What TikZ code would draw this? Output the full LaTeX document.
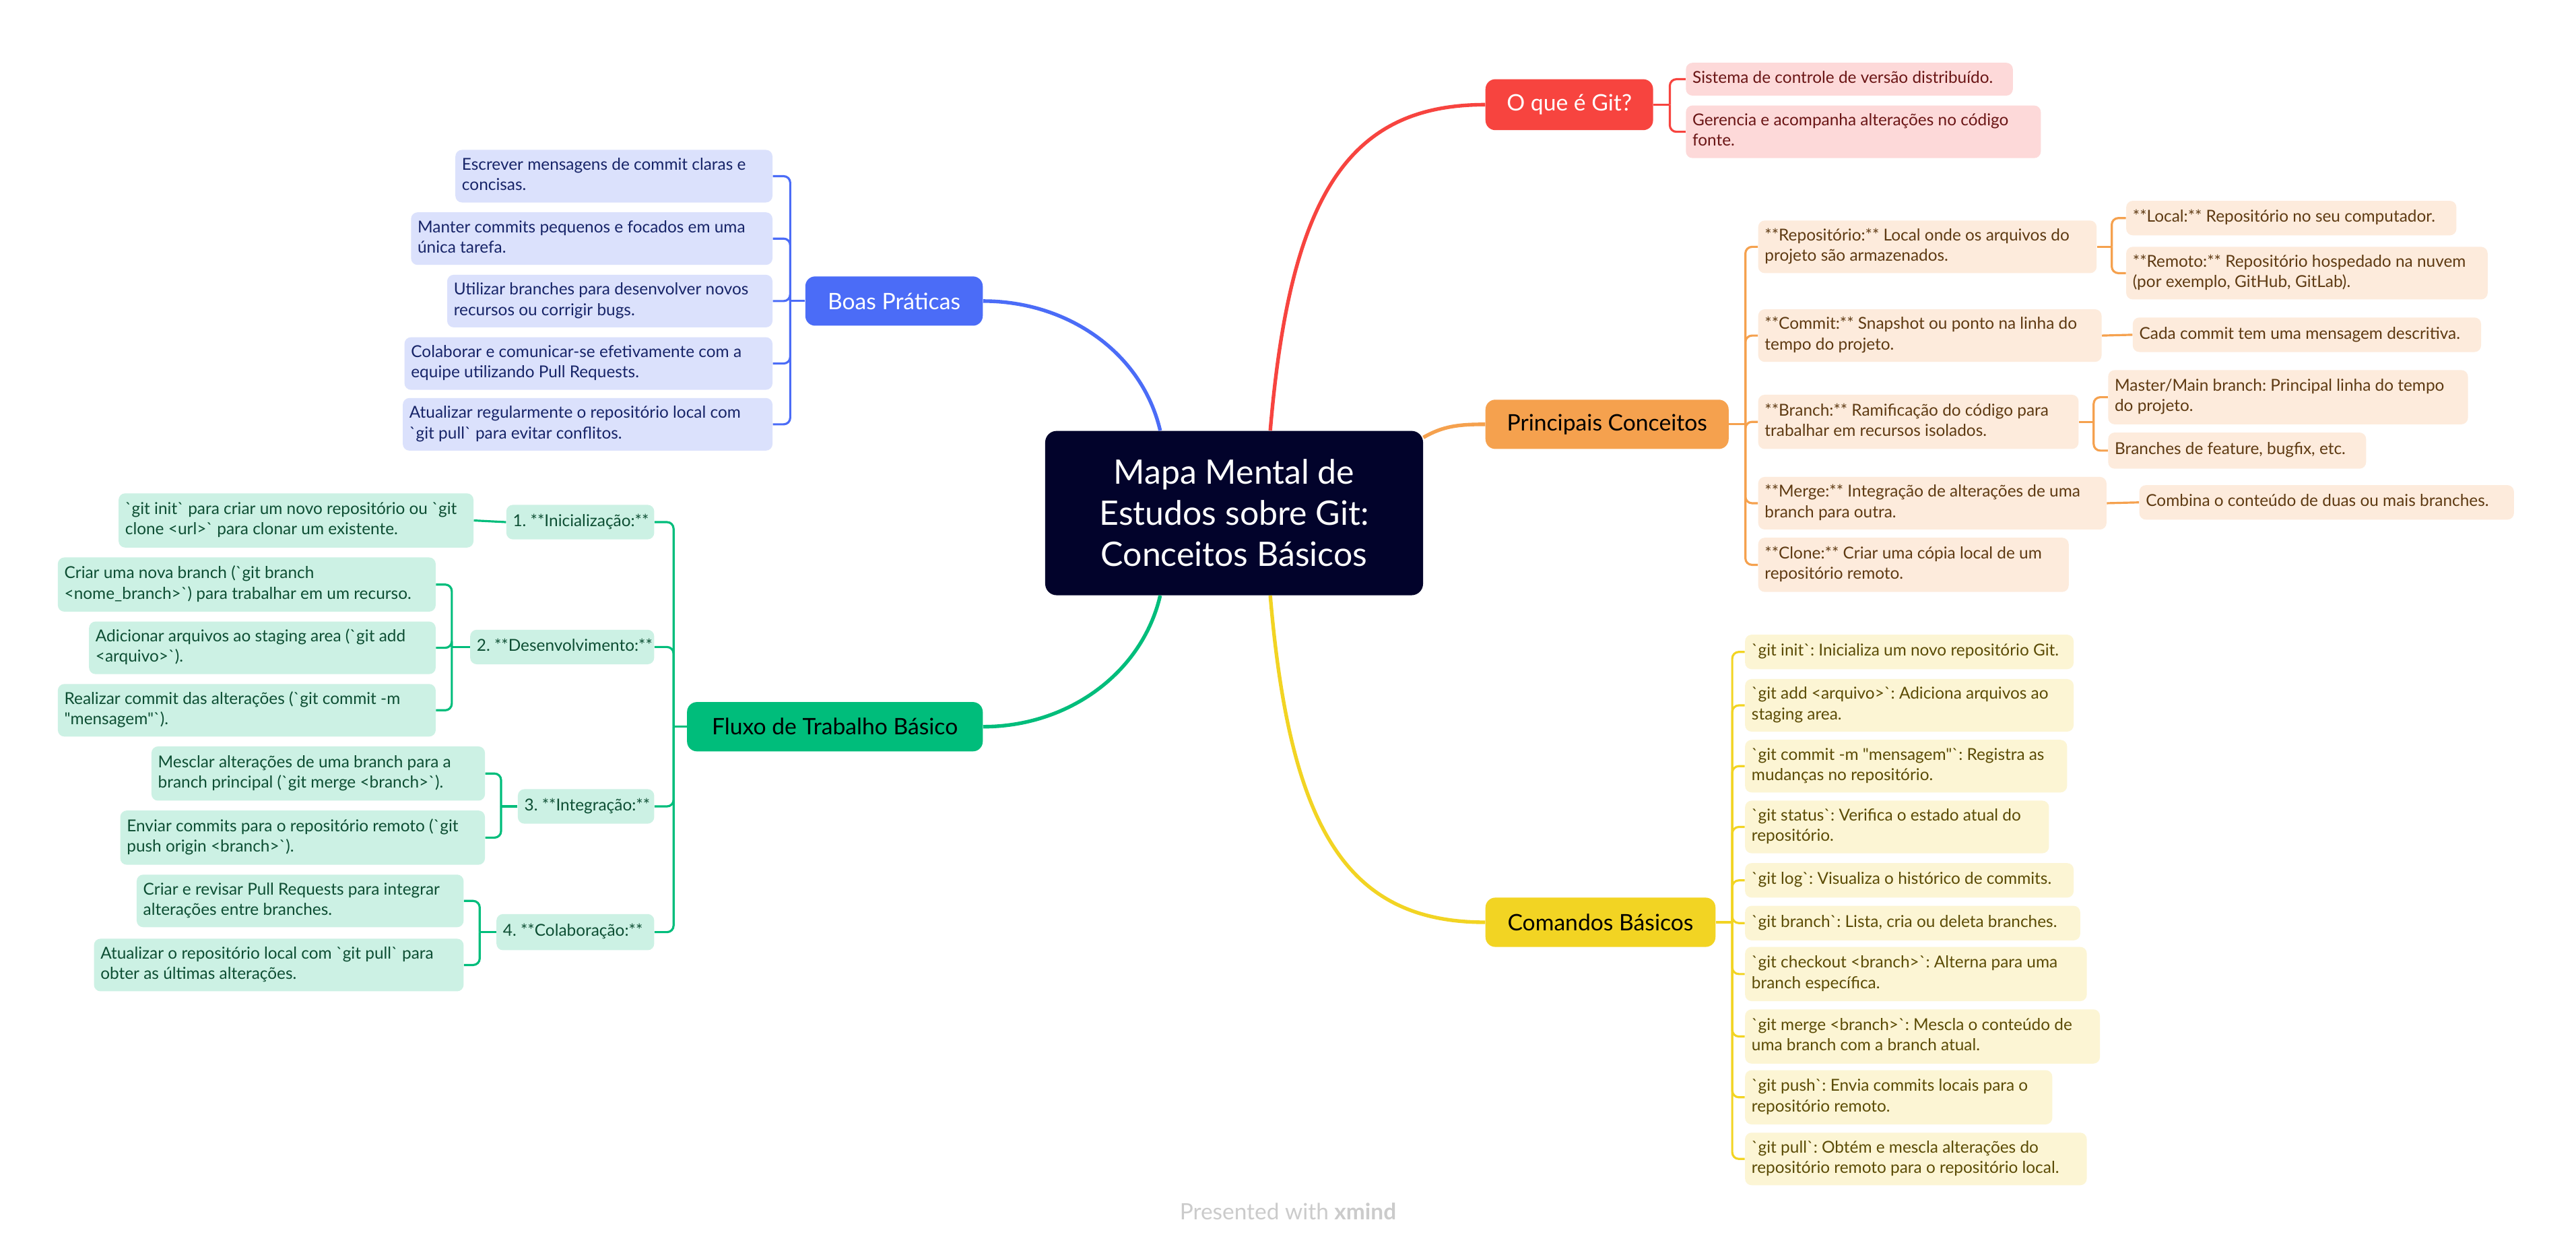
\documentclass[tikz,border=0pt]{standalone}
\usepackage{fontspec}
\setmainfont{Lato}[Ligatures=TeXOff]
\usetikzlibrary{calc}
\frenchspacing

\definecolor{ctrc}{HTML}{02032B}
\definecolor{redc}{HTML}{F7443F}
\definecolor{redl}{HTML}{FDD9D9}
\definecolor{redt}{HTML}{6A1515}
\definecolor{orac}{HTML}{F5A14E}
\definecolor{oral}{HTML}{FDEBDC}
\definecolor{orat}{HTML}{5E3A12}
\definecolor{yelc}{HTML}{F2D423}
\definecolor{yell}{HTML}{FCF5D4}
\definecolor{yelt}{HTML}{5B4B05}
\definecolor{bluc}{HTML}{4B6CF7}
\definecolor{blul}{HTML}{DBE1FC}
\definecolor{blut}{HTML}{172468}
\definecolor{grec}{HTML}{00BD7B}
\definecolor{grel}{HTML}{CCF1E4}
\definecolor{gret}{HTML}{0D4E33}
\definecolor{footc}{HTML}{CBCBCB}

% leaf box: style, name, x1, y1, x2, y2, text (lines separated by \\)
\newcommand\lbx[7]{%
  \pgfmathsetmacro\bh{#6-#4}\pgfmathsetmacro\bw{#5-#3}\pgfmathsetmacro\tw{#5-#3-8}%
  \node[#1, minimum height=\bh pt, minimum width=\bw pt] (#2) at (#3,#4)
    {\makebox[\tw pt][l]{\begin{tabular}{@{}l@{}}#7\end{tabular}}};}
% main box: style, name, x1, y1, x2, y2, text
\newcommand\mbx[7]{%
  \pgfmathsetmacro\bh{#6-#4}\pgfmathsetmacro\bw{#5-#3}%
  \node[#1, minimum height=\bh pt, minimum width=\bw pt] (#2) at (#3,#4) {#7};}

\tikzset{
  leafbox/.style={rounded corners=4pt, inner xsep=4pt, inner ysep=1pt,
    font=\fontsize{10}{12.5}\selectfont, anchor=north west},
  leafR/.style={leafbox, fill=redl, text=redt},
  leafO/.style={leafbox, fill=oral, text=orat},
  leafY/.style={leafbox, fill=yell, text=yelt},
  leafB/.style={leafbox, fill=blul, text=blut},
  leafG/.style={leafbox, fill=grel, text=gret},
  mainbox/.style={rounded corners=6pt, inner sep=0pt, align=center,
    font=\fontsize{13.8}{16}\selectfont, anchor=north west},
  conn/.style={line width=1.3pt},
  bconn/.style={line width=1.3pt, rounded corners=4pt},
  curve/.style={line width=2.2pt},
}

\begin{document}
\begin{tikzpicture}[x=1pt,y=-1pt]
\useasboundingbox (0,0) rectangle (1568,760);
\fill[white] (0,0) rectangle (1568,760);

% ---------- central topic ----------
\mbx{mainbox, rounded corners=7pt, fill=ctrc, text=white, font=\fontsize{20.5}{25}\selectfont}{ctr}{636}{262}{866}{362}{Mapa Mental de\\Estudos sobre Git:\\Conceitos Básicos}

% ---------- main topics ----------
\mbx{mainbox, fill=redc, text=white}{red}{904}{48}{1006}{79}{O que é Git?}
\mbx{mainbox, fill=orac, text=black}{ora}{904}{243}{1052}{273}{Principais Conceitos}
\mbx{mainbox, fill=yelc, text=black}{yel}{904}{546}{1044}{576}{Comandos Básicos}
\mbx{mainbox, fill=bluc, text=white}{blu}{490}{168}{598}{198}{Boas Práticas}
\mbx{mainbox, fill=grec, text=black}{gre}{418}{427}{598}{457}{Fluxo de Trabalho Básico}

% ---------- O que é Git? ----------
\lbx{leafR}{r1}{1026}{38}{1225}{58}{Sistema de controle de versão distribuído.}
\lbx{leafR}{r2}{1026}{64}{1242}{96}{Gerencia e acompanha alterações no código\\fonte.}

% ---------- Principais Conceitos ----------
\lbx{leafO}{o1}{1070}{134}{1276}{166}{**Repositório:** Local onde os arquivos do\\projeto são armazenados.}
\lbx{leafO}{o11}{1294}{122}{1495}{143}{**Local:** Repositório no seu computador.}
\lbx{leafO}{o12}{1294}{150}{1514}{182}{**Remoto:** Repositório hospedado na nuvem\\(por exemplo, GitHub, GitLab).}
\lbx{leafO}{o2}{1070}{188}{1279}{220}{**Commit:** Snapshot ou ponto na linha do\\tempo do projeto.}
\lbx{leafO}{o21}{1298}{193}{1510}{214}{Cada commit tem uma mensagem descritiva.}
\lbx{leafO}{o3}{1070}{240}{1265}{273}{**Branch:** Ramificação do código para\\trabalhar em recursos isolados.}
\lbx{leafO}{o31}{1283}{225}{1502}{258}{Master/Main branch: Principal linha do tempo\\do projeto.}
\lbx{leafO}{o32}{1283}{263}{1440}{285}{Branches de feature, bugfix, etc.}
\lbx{leafO}{o4}{1070}{290}{1282}{322}{**Merge:** Integração de alterações de uma\\branch para outra.}
\lbx{leafO}{o41}{1302}{295}{1530}{316}{Combina o conteúdo de duas ou mais branches.}
\lbx{leafO}{o5}{1070}{327}{1259}{360}{**Clone:** Criar uma cópia local de um\\repositório remoto.}

% ---------- Comandos Básicos ----------
\lbx{leafY}{y1}{1062}{386}{1262}{407}{`git init`: Inicializa um novo repositório Git.}
\lbx{leafY}{y2}{1062}{413}{1262}{445}{`git add <arquivo>`: Adiciona arquivos ao\\staging area.}
\lbx{leafY}{y3}{1062}{450}{1258}{482}{`git commit -m "mensagem"`: Registra as\\mudanças no repositório.}
\lbx{leafY}{y4}{1062}{487}{1247}{519}{`git status`: Verifica o estado atual do\\repositório.}
\lbx{leafY}{y5}{1062}{525}{1262}{546}{`git log`: Visualiza o histórico de commits.}
\lbx{leafY}{y6}{1062}{551}{1266}{572}{`git branch`: Lista, cria ou deleta branches.}
\lbx{leafY}{y7}{1062}{576}{1270}{609}{`git checkout <branch>`: Alterna para uma\\branch específica.}
\lbx{leafY}{y8}{1062}{614}{1278}{647}{`git merge <branch>`: Mescla o conteúdo de\\uma branch com a branch atual.}
\lbx{leafY}{y9}{1062}{651}{1249}{684}{`git push`: Envia commits locais para o\\repositório remoto.}
\lbx{leafY}{y10}{1062}{689}{1270}{721}{`git pull`: Obtém e mescla alterações do\\repositório remoto para o repositório local.}

% ---------- Boas Práticas ----------
\lbx{leafB}{b1}{277}{91}{470}{123}{Escrever mensagens de commit claras e\\concisas.}
\lbx{leafB}{b2}{250}{129}{470}{161}{Manter commits pequenos e focados em uma\\única tarefa.}
\lbx{leafB}{b3}{272}{167}{470}{199}{Utilizar branches para desenvolver novos\\recursos ou corrigir bugs.}
\lbx{leafB}{b4}{246}{205}{470}{237}{Colaborar e comunicar-se efetivamente com a\\equipe utilizando Pull Requests.}
\lbx{leafB}{b5}{245}{242}{470}{274}{Atualizar regularmente o repositório local com\\`git pull` para evitar conflitos.}

% ---------- Fluxo de Trabalho Básico ----------
\lbx{leafG}{g1}{308}{307}{398}{328}{1. **Inicialização:**}
\lbx{leafG}{g11}{72}{300}{288}{333}{`git init` para criar um novo repositório ou `git\\clone <url>` para clonar um existente.}
\lbx{leafG}{g2}{286}{383}{398}{404}{2. **Desenvolvimento:**}
\lbx{leafG}{g21}{35}{339}{265}{372}{Criar uma nova branch (`git branch\\<nome\_branch>`) para trabalhar em um recurso.}
\lbx{leafG}{g22}{54}{378}{265}{410}{Adicionar arquivos ao staging area (`git add\\<arquivo>`).}
\lbx{leafG}{g23}{35}{416}{265}{448}{Realizar commit das alterações (`git commit -m\\"mensagem"`).}
\lbx{leafG}{g3}{315}{480}{398}{501}{3. **Integração:**}
\lbx{leafG}{g31}{92}{454}{295}{487}{Mesclar alterações de uma branch para a\\branch principal (`git merge <branch>`).}
\lbx{leafG}{g32}{73}{493}{295}{526}{Enviar commits para o repositório remoto (`git\\push origin <branch>`).}
\lbx{leafG}{g4}{302}{556}{398}{578}{4. **Colaboração:**}
\lbx{leafG}{g41}{83}{532}{282}{564}{Criar e revisar Pull Requests para integrar\\alterações entre branches.}
\lbx{leafG}{g42}{57}{571}{282}{603}{Atualizar o repositório local com `git pull` para\\obter as últimas alterações.}

% ---------- main curves ----------
\draw[curve, redc] ([xshift=22pt]ctr.north) .. controls ($([xshift=22pt]ctr.north)+(12,-142)$) and ($(red.west)+(-84,0)$) .. (red.west);
\draw[curve, orac] ([yshift=46pt]ctr.east) .. controls ($([yshift=46pt]ctr.east)+(12,-7)$) and ($(ora.west)+(-16,0)$) .. (ora.west);
\draw[curve, yelc] ([xshift=22pt]ctr.south) .. controls ($([xshift=22pt]ctr.south)+(12,142)$) and ($(yel.west)+(-84,0)$) .. (yel.west);
\draw[curve, bluc] ([xshift=-45pt]ctr.north) .. controls ($([xshift=-45pt]ctr.north)+(-11,-47)$) and ($(blu.east)+(52,0)$) .. (blu.east);
\draw[curve, grec] ([xshift=-45pt]ctr.south) .. controls ($([xshift=-45pt]ctr.south)+(-11,47)$) and ($(gre.east)+(52,0)$) .. (gre.east);

% ---------- brackets: red ----------
\coordinate (rb) at ($(red.east)+(10,0)$);
\draw[conn, redc] (red.east) -- (rb);
\foreach \c in {r1,r2} \draw[bconn, redc] (rb) |- (\c.west);

% ---------- brackets: orange ----------
\coordinate (ob) at ($(ora.east)+(10,0)$);
\draw[conn, orac] (ora.east) -- (ob);
\foreach \c in {o1,o2,o3,o4,o5} \draw[bconn, orac] (ob) |- (\c.west);
\coordinate (o1b) at ($(o1.east)+(9,0)$);
\draw[conn, orac] (o1.east) -- (o1b);
\foreach \c in {o11,o12} \draw[bconn, orac] (o1b) |- (\c.west);
\draw[conn, orac] (o2.east) -- (o21.west);
\coordinate (o3b) at ($(o3.east)+(9,0)$);
\draw[conn, orac] (o3.east) -- (o3b);
\foreach \c in {o31,o32} \draw[bconn, orac] (o3b) |- (\c.west);
\draw[conn, orac] (o4.east) -- (o41.west);

% ---------- brackets: yellow ----------
\coordinate (yb) at ($(yel.east)+(10,0)$);
\draw[conn, yelc] (yel.east) -- (yb);
\foreach \c in {y1,y2,y3,y4,y5,y6,y7,y8,y9,y10} \draw[bconn, yelc] (yb) |- (\c.west);

% ---------- brackets: blue ----------
\coordinate (bb) at ($(blu.west)+(-9,0)$);
\draw[conn, bluc] (blu.west) -- (bb);
\foreach \c in {b1,b2,b3,b4,b5} \draw[bconn, bluc] (bb) |- (\c.east);

% ---------- brackets: green ----------
\coordinate (gb) at ($(gre.west)+(-8,0)$);
\draw[conn, grec] (gre.west) -- (gb);
\foreach \c in {g1,g2,g3,g4} \draw[bconn, grec] (gb) |- (\c.east);
\draw[conn, grec] (g1.west) -- (g11.east);
\coordinate (g2b) at ($(g2.west)+(-11,0)$);
\draw[conn, grec] (g2.west) -- (g2b);
\foreach \c in {g21,g22,g23} \draw[bconn, grec] (g2b) |- (\c.east);
\coordinate (g3b) at ($(g3.west)+(-10,0)$);
\draw[conn, grec] (g3.west) -- (g3b);
\foreach \c in {g31,g32} \draw[bconn, grec] (g3b) |- (\c.east);
\coordinate (g4b) at ($(g4.west)+(-10,0)$);
\draw[conn, grec] (g4.west) -- (g4b);
\foreach \c in {g41,g42} \draw[bconn, grec] (g4b) |- (\c.east);

% ---------- footer ----------
\node[text=footc, font=\fontsize{13.7}{16}\selectfont] (foot) at (784,737) {Presented with \textbf{xmind}};
\end{tikzpicture}
\end{document}
